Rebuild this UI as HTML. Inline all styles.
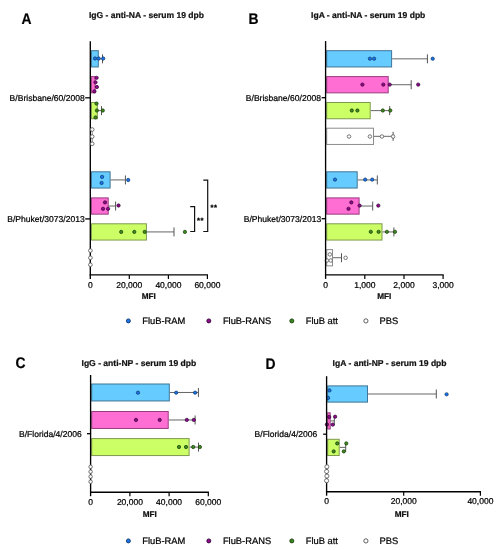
<!DOCTYPE html>
<html><head><meta charset="utf-8"><title>Figure</title>
<style>
html,body{margin:0;padding:0;background:#fff;}
body{width:502px;height:550px;overflow:hidden;}
svg{display:block;font-family:'Liberation Sans', Arial, sans-serif;text-rendering:geometricPrecision;}
</style></head><body>
<svg width="502" height="550" viewBox="0 0 502 550">
<rect width="502" height="550" fill="#fff"/>
<text transform="translate(21.6,23.9) scale(0.9,1)" font-size="15.4" font-weight="bold" fill="#000" stroke="#000" stroke-width="0.2">A</text>
<text x="146.5" y="18.1" font-size="8.55" font-weight="bold" text-anchor="middle" fill="#111" stroke="#111" stroke-width="0.22">IgG - anti-NA - serum 19 dpb</text>
<line x1="98.8" y1="58.83" x2="102.5" y2="58.83" stroke="#555555" stroke-width="0.9"/>
<line x1="102.5" y1="54.33" x2="102.5" y2="63.33" stroke="#555555" stroke-width="1.0"/>
<rect x="91.4" y="50.7" width="6.9" height="16.25" fill="#66ccff" stroke="#3f7596" stroke-width="1"/>
<circle cx="95.0" cy="58.5" r="1.65" fill="#1c74ec" stroke="#0b3566" stroke-width="0.7"/>
<circle cx="98.7" cy="58.5" r="1.65" fill="#1c74ec" stroke="#0b3566" stroke-width="0.7"/>
<circle cx="103.2" cy="58.5" r="1.65" fill="#1c74ec" stroke="#0b3566" stroke-width="0.7"/>
<rect x="91.4" y="76.6" width="3.7" height="16.25" fill="#ff6ed2" stroke="#983c80" stroke-width="1"/>
<circle cx="96.6" cy="77.8" r="1.65" fill="#900a90" stroke="#2e022e" stroke-width="0.7"/>
<circle cx="95.5" cy="82.3" r="1.65" fill="#900a90" stroke="#2e022e" stroke-width="0.7"/>
<circle cx="96.9" cy="87.0" r="1.65" fill="#900a90" stroke="#2e022e" stroke-width="0.7"/>
<circle cx="94.4" cy="91.3" r="1.65" fill="#900a90" stroke="#2e022e" stroke-width="0.7"/>
<line x1="97.8" y1="110.62" x2="101.5" y2="110.62" stroke="#555555" stroke-width="0.9"/>
<line x1="101.5" y1="106.12" x2="101.5" y2="115.12" stroke="#555555" stroke-width="1.0"/>
<rect x="91.4" y="102.5" width="5.9" height="16.25" fill="#ccff66" stroke="#7e9a4e" stroke-width="1"/>
<circle cx="96.5" cy="103.6" r="1.65" fill="#3d8a1c" stroke="#173a0b" stroke-width="0.7"/>
<circle cx="96.9" cy="110.5" r="1.65" fill="#3d8a1c" stroke="#173a0b" stroke-width="0.7"/>
<circle cx="102.8" cy="110.5" r="1.65" fill="#3d8a1c" stroke="#173a0b" stroke-width="0.7"/>
<circle cx="95.5" cy="117.4" r="1.65" fill="#3d8a1c" stroke="#173a0b" stroke-width="0.7"/>
<line x1="110.6" y1="179.93" x2="125.4" y2="179.93" stroke="#555555" stroke-width="0.9"/>
<line x1="125.4" y1="175.43" x2="125.4" y2="184.43" stroke="#555555" stroke-width="1.0"/>
<rect x="91.4" y="171.8" width="18.7" height="16.25" fill="#66ccff" stroke="#3f7596" stroke-width="1"/>
<circle cx="102.1" cy="176.9" r="1.65" fill="#1c74ec" stroke="#0b3566" stroke-width="0.7"/>
<circle cx="101.6" cy="183.0" r="1.65" fill="#1c74ec" stroke="#0b3566" stroke-width="0.7"/>
<circle cx="128.2" cy="180.0" r="1.65" fill="#1c74ec" stroke="#0b3566" stroke-width="0.7"/>
<line x1="108.7" y1="206.03" x2="115.6" y2="206.03" stroke="#555555" stroke-width="0.9"/>
<line x1="115.6" y1="201.53" x2="115.6" y2="210.53" stroke="#555555" stroke-width="1.0"/>
<rect x="91.4" y="197.9" width="16.8" height="16.25" fill="#ff6ed2" stroke="#983c80" stroke-width="1"/>
<circle cx="105" cy="202.4" r="1.65" fill="#900a90" stroke="#2e022e" stroke-width="0.7"/>
<circle cx="103" cy="208.8" r="1.65" fill="#900a90" stroke="#2e022e" stroke-width="0.7"/>
<circle cx="108.1" cy="208.8" r="1.65" fill="#900a90" stroke="#2e022e" stroke-width="0.7"/>
<circle cx="118.5" cy="205.5" r="1.65" fill="#900a90" stroke="#2e022e" stroke-width="0.7"/>
<line x1="146.9" y1="231.93" x2="174.0" y2="231.93" stroke="#555555" stroke-width="0.9"/>
<line x1="174.0" y1="227.43" x2="174.0" y2="236.43" stroke="#555555" stroke-width="1.0"/>
<rect x="91.4" y="223.8" width="55" height="16.25" fill="#ccff66" stroke="#7e9a4e" stroke-width="1"/>
<circle cx="121.2" cy="231.9" r="1.65" fill="#3d8a1c" stroke="#173a0b" stroke-width="0.7"/>
<circle cx="134.3" cy="231.9" r="1.65" fill="#3d8a1c" stroke="#173a0b" stroke-width="0.7"/>
<circle cx="144.7" cy="231.9" r="1.65" fill="#3d8a1c" stroke="#173a0b" stroke-width="0.7"/>
<circle cx="184.9" cy="231.9" r="1.65" fill="#3d8a1c" stroke="#173a0b" stroke-width="0.7"/>
<line x1="90.3" y1="41.2" x2="90.3" y2="278.9" stroke="#000000" stroke-width="1.35"/>
<line x1="89.65" y1="274.9" x2="208.0" y2="274.9" stroke="#000000" stroke-width="1.4"/>
<line x1="129.3" y1="274.9" x2="129.3" y2="278.9" stroke="#000000" stroke-width="1.2"/>
<line x1="168.4" y1="274.9" x2="168.4" y2="278.9" stroke="#000000" stroke-width="1.2"/>
<line x1="207.4" y1="274.9" x2="207.4" y2="278.9" stroke="#000000" stroke-width="1.2"/>
<line x1="92.2" y1="130.5" x2="92.2" y2="142.7" stroke="#777" stroke-width="0.9"/>
<circle cx="92.2" cy="129.5" r="1.85" fill="#fff" stroke="#5a5a5a" stroke-width="0.85"/>
<circle cx="92.2" cy="136.6" r="1.85" fill="#fff" stroke="#5a5a5a" stroke-width="0.85"/>
<circle cx="92.2" cy="143.8" r="1.85" fill="#fff" stroke="#5a5a5a" stroke-width="0.85"/>
<circle cx="90.4" cy="250.6" r="1.85" fill="#fff" stroke="#5a5a5a" stroke-width="0.85"/>
<circle cx="90.4" cy="257.8" r="1.85" fill="#fff" stroke="#5a5a5a" stroke-width="0.85"/>
<circle cx="90.4" cy="264.8" r="1.85" fill="#fff" stroke="#5a5a5a" stroke-width="0.85"/>
<polyline points="190.2,206.6 194.6,206.6 194.6,231.5 190.2,231.5" fill="none" stroke="#111" stroke-width="1.2"/>
<text x="198.4" y="222.8" font-size="7.6" font-weight="bold" text-anchor="middle" fill="#000" stroke="#000" stroke-width="0.3">*</text>
<text x="202.0" y="222.8" font-size="7.6" font-weight="bold" text-anchor="middle" fill="#000" stroke="#000" stroke-width="0.3">*</text>
<polyline points="203.3,180.1 207.7,180.1 207.7,231.5 203.3,231.5" fill="none" stroke="#111" stroke-width="1.2"/>
<text x="211.9" y="209.8" font-size="7.6" font-weight="bold" text-anchor="middle" fill="#000" stroke="#000" stroke-width="0.3">*</text>
<text x="215.5" y="209.8" font-size="7.6" font-weight="bold" text-anchor="middle" fill="#000" stroke="#000" stroke-width="0.3">*</text>
<line x1="85.2" y1="97.8" x2="90.3" y2="97.8" stroke="#000000" stroke-width="1.3"/>
<line x1="85.2" y1="218.9" x2="90.3" y2="218.9" stroke="#000000" stroke-width="1.3"/>
<text x="84.7" y="100.9" font-size="8.55" font-weight="normal" text-anchor="end" fill="#000" stroke="#000" stroke-width="0.22">B/Brisbane/60/2008</text>
<text x="84.7" y="222.0" font-size="8.55" font-weight="normal" text-anchor="end" fill="#000" stroke="#000" stroke-width="0.22">B/Phuket/3073/2013</text>
<text x="90.3" y="287.9" font-size="8.5" font-weight="normal" text-anchor="middle" fill="#000" stroke="#000" stroke-width="0.22">0</text>
<text x="129.3" y="287.9" font-size="8.5" font-weight="normal" text-anchor="middle" fill="#000" stroke="#000" stroke-width="0.22">20,000</text>
<text x="168.4" y="287.9" font-size="8.5" font-weight="normal" text-anchor="middle" fill="#000" stroke="#000" stroke-width="0.22">40,000</text>
<text x="207.4" y="287.9" font-size="8.5" font-weight="normal" text-anchor="middle" fill="#000" stroke="#000" stroke-width="0.22">60,000</text>
<text x="148.8" y="299.2" font-size="8.2" font-weight="bold" text-anchor="middle" fill="#111" stroke="#111" stroke-width="0.22">MFI</text>
<text transform="translate(248.6,23.9) scale(0.9,1)" font-size="15.4" font-weight="bold" fill="#000" stroke="#000" stroke-width="0.2">B</text>
<text x="368.2" y="18.1" font-size="8.55" font-weight="bold" text-anchor="middle" fill="#111" stroke="#111" stroke-width="0.22">IgA - anti-NA - serum 19 dpb</text>
<line x1="392.1" y1="58.83" x2="427.4" y2="58.83" stroke="#555555" stroke-width="0.9"/>
<line x1="427.4" y1="54.33" x2="427.4" y2="63.33" stroke="#555555" stroke-width="1.0"/>
<rect x="326.7" y="50.7" width="64.9" height="16.25" fill="#66ccff" stroke="#3f7596" stroke-width="1"/>
<circle cx="369.9" cy="58.7" r="1.65" fill="#1c74ec" stroke="#0b3566" stroke-width="0.7"/>
<circle cx="374.1" cy="58.7" r="1.65" fill="#1c74ec" stroke="#0b3566" stroke-width="0.7"/>
<circle cx="432.7" cy="58.7" r="1.65" fill="#1c74ec" stroke="#0b3566" stroke-width="0.7"/>
<line x1="388.7" y1="84.72" x2="411.2" y2="84.72" stroke="#555555" stroke-width="0.9"/>
<line x1="411.2" y1="80.22" x2="411.2" y2="89.22" stroke="#555555" stroke-width="1.0"/>
<rect x="326.7" y="76.6" width="61.5" height="16.25" fill="#ff6ed2" stroke="#983c80" stroke-width="1"/>
<circle cx="362.4" cy="84.6" r="1.65" fill="#900a90" stroke="#2e022e" stroke-width="0.7"/>
<circle cx="383.3" cy="84.6" r="1.65" fill="#900a90" stroke="#2e022e" stroke-width="0.7"/>
<circle cx="389.7" cy="84.6" r="1.65" fill="#900a90" stroke="#2e022e" stroke-width="0.7"/>
<circle cx="418.2" cy="84.6" r="1.65" fill="#900a90" stroke="#2e022e" stroke-width="0.7"/>
<line x1="370.7" y1="110.62" x2="389.7" y2="110.62" stroke="#555555" stroke-width="0.9"/>
<line x1="389.7" y1="106.12" x2="389.7" y2="115.12" stroke="#555555" stroke-width="1.0"/>
<rect x="326.7" y="102.5" width="43.5" height="16.25" fill="#ccff66" stroke="#7e9a4e" stroke-width="1"/>
<circle cx="351.8" cy="110.5" r="1.65" fill="#3d8a1c" stroke="#173a0b" stroke-width="0.7"/>
<circle cx="357.4" cy="110.5" r="1.65" fill="#3d8a1c" stroke="#173a0b" stroke-width="0.7"/>
<circle cx="382.8" cy="110.5" r="1.65" fill="#3d8a1c" stroke="#173a0b" stroke-width="0.7"/>
<circle cx="390.3" cy="110.5" r="1.65" fill="#3d8a1c" stroke="#173a0b" stroke-width="0.7"/>
<line x1="374.0" y1="136.32" x2="393.1" y2="136.32" stroke="#555555" stroke-width="0.9"/>
<line x1="393.1" y1="131.82" x2="393.1" y2="140.82" stroke="#555555" stroke-width="1.0"/>
<rect x="326.7" y="128.2" width="46.8" height="16.25" fill="#ffffff" stroke="#8c8c8c" stroke-width="1"/>
<circle cx="349.0" cy="136.5" r="1.75" fill="#fff" stroke="#555" stroke-width="0.8"/>
<circle cx="369.9" cy="136.5" r="1.75" fill="#fff" stroke="#555" stroke-width="0.8"/>
<circle cx="381.9" cy="136.5" r="1.75" fill="#fff" stroke="#555" stroke-width="0.8"/>
<circle cx="393.1" cy="136.5" r="1.75" fill="#fff" stroke="#555" stroke-width="0.8"/>
<line x1="357.7" y1="179.93" x2="377.3" y2="179.93" stroke="#555555" stroke-width="0.9"/>
<line x1="377.3" y1="175.43" x2="377.3" y2="184.43" stroke="#555555" stroke-width="1.0"/>
<rect x="326.7" y="171.8" width="30.5" height="16.25" fill="#66ccff" stroke="#3f7596" stroke-width="1"/>
<circle cx="335.0" cy="179.6" r="1.65" fill="#1c74ec" stroke="#0b3566" stroke-width="0.7"/>
<circle cx="365.2" cy="179.6" r="1.65" fill="#1c74ec" stroke="#0b3566" stroke-width="0.7"/>
<circle cx="372.2" cy="179.6" r="1.65" fill="#1c74ec" stroke="#0b3566" stroke-width="0.7"/>
<line x1="359.6" y1="206.03" x2="372.7" y2="206.03" stroke="#555555" stroke-width="0.9"/>
<line x1="372.7" y1="201.53" x2="372.7" y2="210.53" stroke="#555555" stroke-width="1.0"/>
<rect x="326.7" y="197.9" width="32.4" height="16.25" fill="#ff6ed2" stroke="#983c80" stroke-width="1"/>
<circle cx="351.3" cy="202.4" r="1.65" fill="#900a90" stroke="#2e022e" stroke-width="0.7"/>
<circle cx="348.5" cy="208.8" r="1.65" fill="#900a90" stroke="#2e022e" stroke-width="0.7"/>
<circle cx="359.6" cy="205.6" r="1.65" fill="#900a90" stroke="#2e022e" stroke-width="0.7"/>
<circle cx="378.3" cy="205.6" r="1.65" fill="#900a90" stroke="#2e022e" stroke-width="0.7"/>
<line x1="382.5" y1="231.93" x2="393.9" y2="231.93" stroke="#555555" stroke-width="0.9"/>
<line x1="393.9" y1="227.43" x2="393.9" y2="236.43" stroke="#555555" stroke-width="1.0"/>
<rect x="326.7" y="223.8" width="55.3" height="16.25" fill="#ccff66" stroke="#7e9a4e" stroke-width="1"/>
<circle cx="370.8" cy="231.8" r="1.65" fill="#3d8a1c" stroke="#173a0b" stroke-width="0.7"/>
<circle cx="378.6" cy="231.8" r="1.65" fill="#3d8a1c" stroke="#173a0b" stroke-width="0.7"/>
<circle cx="386.9" cy="231.8" r="1.65" fill="#3d8a1c" stroke="#173a0b" stroke-width="0.7"/>
<circle cx="395.0" cy="231.8" r="1.65" fill="#3d8a1c" stroke="#173a0b" stroke-width="0.7"/>
<line x1="333.0" y1="257.73" x2="341.5" y2="257.73" stroke="#555555" stroke-width="0.9"/>
<line x1="341.5" y1="253.23" x2="341.5" y2="262.23" stroke="#555555" stroke-width="1.0"/>
<rect x="326.7" y="249.6" width="5.8" height="16.25" fill="#ffffff" stroke="#8c8c8c" stroke-width="1"/>
<circle cx="329.8" cy="254.4" r="1.75" fill="#fff" stroke="#555" stroke-width="0.8"/>
<circle cx="326.9" cy="260.5" r="1.75" fill="#fff" stroke="#555" stroke-width="0.8"/>
<circle cx="330.7" cy="260.5" r="1.75" fill="#fff" stroke="#555" stroke-width="0.8"/>
<circle cx="345.6" cy="257.8" r="1.75" fill="#fff" stroke="#555" stroke-width="0.8"/>
<line x1="325.6" y1="41.1" x2="325.6" y2="278.9" stroke="#000000" stroke-width="1.35"/>
<line x1="324.95" y1="274.9" x2="443.7" y2="274.9" stroke="#000000" stroke-width="1.4"/>
<line x1="364.8" y1="274.9" x2="364.8" y2="278.9" stroke="#000000" stroke-width="1.2"/>
<line x1="404.0" y1="274.9" x2="404.0" y2="278.9" stroke="#000000" stroke-width="1.2"/>
<line x1="443.1" y1="274.9" x2="443.1" y2="278.9" stroke="#000000" stroke-width="1.2"/>
<line x1="321.6" y1="97.7" x2="325.6" y2="97.7" stroke="#000000" stroke-width="1.3"/>
<line x1="321.6" y1="218.7" x2="325.6" y2="218.7" stroke="#000000" stroke-width="1.3"/>
<text x="320.9" y="100.8" font-size="8.55" font-weight="normal" text-anchor="end" fill="#000" stroke="#000" stroke-width="0.22">B/Brisbane/60/2008</text>
<text x="321.2" y="221.8" font-size="8.55" font-weight="normal" text-anchor="end" fill="#000" stroke="#000" stroke-width="0.22">B/Phuket/3073/2013</text>
<text x="325.6" y="287.9" font-size="8.5" font-weight="normal" text-anchor="middle" fill="#000" stroke="#000" stroke-width="0.22">0</text>
<text x="364.8" y="287.9" font-size="8.5" font-weight="normal" text-anchor="middle" fill="#000" stroke="#000" stroke-width="0.22">1,000</text>
<text x="404.0" y="287.9" font-size="8.5" font-weight="normal" text-anchor="middle" fill="#000" stroke="#000" stroke-width="0.22">2,000</text>
<text x="443.1" y="287.9" font-size="8.5" font-weight="normal" text-anchor="middle" fill="#000" stroke="#000" stroke-width="0.22">3,000</text>
<text x="384.3" y="299.2" font-size="8.2" font-weight="bold" text-anchor="middle" fill="#111" stroke="#111" stroke-width="0.22">MFI</text>
<circle cx="128.4" cy="320.9" r="2.0" fill="#1c74ec" stroke="#0b3566" stroke-width="0.9"/>
<text x="142.3" y="324.3" font-size="9.35" font-weight="normal" text-anchor="start" fill="#000" stroke="#000" stroke-width="0.22">FluB-RAM</text>
<circle cx="208.8" cy="320.9" r="2.0" fill="#900a90" stroke="#2e022e" stroke-width="0.9"/>
<text x="222.9" y="324.3" font-size="9.35" font-weight="normal" text-anchor="start" fill="#000" stroke="#000" stroke-width="0.22">FluB-RANS</text>
<circle cx="291.8" cy="320.9" r="2.0" fill="#3d8a1c" stroke="#173a0b" stroke-width="0.9"/>
<text x="305.7" y="324.3" font-size="9.35" font-weight="normal" text-anchor="start" fill="#000" stroke="#000" stroke-width="0.22">FluB att</text>
<circle cx="365.9" cy="320.9" r="2.1" fill="#fff" stroke="#555" stroke-width="0.95"/>
<text x="379.6" y="324.3" font-size="9.35" font-weight="normal" text-anchor="start" fill="#000" stroke="#000" stroke-width="0.22">PBS</text>
<circle cx="128.4" cy="540.9" r="2.0" fill="#1c74ec" stroke="#0b3566" stroke-width="0.9"/>
<text x="142.3" y="544.3" font-size="9.35" font-weight="normal" text-anchor="start" fill="#000" stroke="#000" stroke-width="0.22">FluB-RAM</text>
<circle cx="208.8" cy="540.9" r="2.0" fill="#900a90" stroke="#2e022e" stroke-width="0.9"/>
<text x="222.9" y="544.3" font-size="9.35" font-weight="normal" text-anchor="start" fill="#000" stroke="#000" stroke-width="0.22">FluB-RANS</text>
<circle cx="291.8" cy="540.9" r="2.0" fill="#3d8a1c" stroke="#173a0b" stroke-width="0.9"/>
<text x="305.7" y="544.3" font-size="9.35" font-weight="normal" text-anchor="start" fill="#000" stroke="#000" stroke-width="0.22">FluB att</text>
<circle cx="365.9" cy="540.9" r="2.1" fill="#fff" stroke="#555" stroke-width="0.95"/>
<text x="379.6" y="544.3" font-size="9.35" font-weight="normal" text-anchor="start" fill="#000" stroke="#000" stroke-width="0.22">PBS</text>
<text transform="translate(15.6,368.3) scale(0.9,1)" font-size="15.4" font-weight="bold" fill="#000" stroke="#000" stroke-width="0.2">C</text>
<text x="138.9" y="365.7" font-size="8.55" font-weight="bold" text-anchor="middle" fill="#111" stroke="#111" stroke-width="0.22">IgG - anti-NP - serum 19 dpb</text>
<line x1="169.8" y1="392.48" x2="198.4" y2="392.48" stroke="#555555" stroke-width="0.9"/>
<line x1="198.4" y1="387.98" x2="198.4" y2="396.98" stroke="#555555" stroke-width="1.0"/>
<rect x="91.7" y="384.0" width="77.6" height="16.95" fill="#66ccff" stroke="#3f7596" stroke-width="1"/>
<circle cx="138" cy="392.7" r="1.65" fill="#1c74ec" stroke="#0b3566" stroke-width="0.7"/>
<circle cx="176.2" cy="392.7" r="1.65" fill="#1c74ec" stroke="#0b3566" stroke-width="0.7"/>
<circle cx="195.1" cy="392.7" r="1.65" fill="#1c74ec" stroke="#0b3566" stroke-width="0.7"/>
<line x1="168.7" y1="419.98" x2="195.1" y2="419.98" stroke="#555555" stroke-width="0.9"/>
<line x1="195.1" y1="415.48" x2="195.1" y2="424.48" stroke="#555555" stroke-width="1.0"/>
<rect x="91.7" y="411.5" width="76.5" height="16.95" fill="#ff6ed2" stroke="#983c80" stroke-width="1"/>
<circle cx="136" cy="419.9" r="1.65" fill="#900a90" stroke="#2e022e" stroke-width="0.7"/>
<circle cx="159.7" cy="419.9" r="1.65" fill="#900a90" stroke="#2e022e" stroke-width="0.7"/>
<circle cx="186.8" cy="419.9" r="1.65" fill="#900a90" stroke="#2e022e" stroke-width="0.7"/>
<circle cx="193.8" cy="419.9" r="1.65" fill="#900a90" stroke="#2e022e" stroke-width="0.7"/>
<line x1="189.6" y1="447.08" x2="198.5" y2="447.08" stroke="#555555" stroke-width="0.9"/>
<line x1="198.5" y1="442.58" x2="198.5" y2="451.58" stroke="#555555" stroke-width="1.0"/>
<rect x="91.7" y="438.6" width="97.4" height="16.95" fill="#ccff66" stroke="#7e9a4e" stroke-width="1"/>
<circle cx="179" cy="447" r="1.65" fill="#3d8a1c" stroke="#173a0b" stroke-width="0.7"/>
<circle cx="186" cy="447" r="1.65" fill="#3d8a1c" stroke="#173a0b" stroke-width="0.7"/>
<circle cx="193.2" cy="447" r="1.65" fill="#3d8a1c" stroke="#173a0b" stroke-width="0.7"/>
<circle cx="199.9" cy="447" r="1.65" fill="#3d8a1c" stroke="#173a0b" stroke-width="0.7"/>
<line x1="90.6" y1="375.0" x2="90.6" y2="496.2" stroke="#000000" stroke-width="1.35"/>
<line x1="89.95" y1="492.2" x2="208.9" y2="492.2" stroke="#000000" stroke-width="1.4"/>
<line x1="129.9" y1="492.2" x2="129.9" y2="496.2" stroke="#000000" stroke-width="1.2"/>
<line x1="169.1" y1="492.2" x2="169.1" y2="496.2" stroke="#000000" stroke-width="1.2"/>
<line x1="208.3" y1="492.2" x2="208.3" y2="496.2" stroke="#000000" stroke-width="1.2"/>
<circle cx="90.6" cy="466.8" r="1.75" fill="#fff" stroke="#5a5a5a" stroke-width="0.85"/>
<circle cx="90.6" cy="471.7" r="1.75" fill="#fff" stroke="#5a5a5a" stroke-width="0.85"/>
<circle cx="90.6" cy="476.6" r="1.75" fill="#fff" stroke="#5a5a5a" stroke-width="0.85"/>
<circle cx="90.6" cy="481.7" r="1.75" fill="#fff" stroke="#5a5a5a" stroke-width="0.85"/>
<line x1="87.0" y1="433.7" x2="90.6" y2="433.7" stroke="#000000" stroke-width="1.3"/>
<text x="81.7" y="436.8" font-size="8.55" font-weight="normal" text-anchor="end" fill="#000" stroke="#000" stroke-width="0.22">B/Florida/4/2006</text>
<text x="90.6" y="505.0" font-size="8.5" font-weight="normal" text-anchor="middle" fill="#000" stroke="#000" stroke-width="0.22">0</text>
<text x="129.9" y="505.0" font-size="8.5" font-weight="normal" text-anchor="middle" fill="#000" stroke="#000" stroke-width="0.22">20,000</text>
<text x="169.1" y="505.0" font-size="8.5" font-weight="normal" text-anchor="middle" fill="#000" stroke="#000" stroke-width="0.22">40,000</text>
<text x="208.3" y="505.0" font-size="8.5" font-weight="normal" text-anchor="middle" fill="#000" stroke="#000" stroke-width="0.22">60,000</text>
<text x="149.7" y="516.7" font-size="8.2" font-weight="bold" text-anchor="middle" fill="#111" stroke="#111" stroke-width="0.22">MFI</text>
<text transform="translate(265.4,368.5) scale(0.9,1)" font-size="15.4" font-weight="bold" fill="#000" stroke="#000" stroke-width="0.2">D</text>
<text x="389.6" y="365.7" font-size="8.55" font-weight="bold" text-anchor="middle" fill="#111" stroke="#111" stroke-width="0.22">IgA - anti-NP - serum 19 dpb</text>
<line x1="368.0" y1="394.0" x2="436.3" y2="394.0" stroke="#555555" stroke-width="0.9"/>
<line x1="436.3" y1="389.5" x2="436.3" y2="398.5" stroke="#555555" stroke-width="1.0"/>
<rect x="327.7" y="385.9" width="39.8" height="16.2" fill="#66ccff" stroke="#3f7596" stroke-width="1"/>
<circle cx="329.5" cy="390.4" r="1.65" fill="#1c74ec" stroke="#0b3566" stroke-width="0.7"/>
<circle cx="328.1" cy="397.9" r="1.65" fill="#1c74ec" stroke="#0b3566" stroke-width="0.7"/>
<circle cx="446.6" cy="394.3" r="1.65" fill="#1c74ec" stroke="#0b3566" stroke-width="0.7"/>
<line x1="330.7" y1="420.9" x2="334.3" y2="420.9" stroke="#555555" stroke-width="0.9"/>
<line x1="334.3" y1="416.4" x2="334.3" y2="425.4" stroke="#555555" stroke-width="1.0"/>
<rect x="327.7" y="412.8" width="2.5" height="16.2" fill="#ff6ed2" stroke="#983c80" stroke-width="1"/>
<circle cx="329.2" cy="417.0" r="1.65" fill="#900a90" stroke="#2e022e" stroke-width="0.7"/>
<circle cx="335.1" cy="416.7" r="1.65" fill="#900a90" stroke="#2e022e" stroke-width="0.7"/>
<circle cx="326.9" cy="424.5" r="1.65" fill="#900a90" stroke="#2e022e" stroke-width="0.7"/>
<circle cx="332.7" cy="424.6" r="1.65" fill="#900a90" stroke="#2e022e" stroke-width="0.7"/>
<line x1="339.7" y1="447.4" x2="345.7" y2="447.4" stroke="#555555" stroke-width="0.9"/>
<line x1="345.7" y1="442.9" x2="345.7" y2="451.9" stroke="#555555" stroke-width="1.0"/>
<rect x="327.7" y="439.3" width="11.5" height="16.2" fill="#ccff66" stroke="#7e9a4e" stroke-width="1"/>
<circle cx="337.2" cy="443.4" r="1.65" fill="#3d8a1c" stroke="#173a0b" stroke-width="0.7"/>
<circle cx="346.3" cy="443.4" r="1.65" fill="#3d8a1c" stroke="#173a0b" stroke-width="0.7"/>
<circle cx="333.7" cy="451.4" r="1.65" fill="#3d8a1c" stroke="#173a0b" stroke-width="0.7"/>
<circle cx="343.8" cy="451.4" r="1.65" fill="#3d8a1c" stroke="#173a0b" stroke-width="0.7"/>
<line x1="326.6" y1="376.2" x2="326.6" y2="495.7" stroke="#000000" stroke-width="1.35"/>
<line x1="325.95" y1="491.7" x2="481.0" y2="491.7" stroke="#000000" stroke-width="1.4"/>
<line x1="403.7" y1="491.7" x2="403.7" y2="495.7" stroke="#000000" stroke-width="1.2"/>
<line x1="480.4" y1="491.7" x2="480.4" y2="495.7" stroke="#000000" stroke-width="1.2"/>
<circle cx="326.9" cy="466.8" r="2.05" fill="#fff" stroke="#5a5a5a" stroke-width="0.85"/>
<circle cx="326.6" cy="471.5" r="2.05" fill="#fff" stroke="#5a5a5a" stroke-width="0.85"/>
<circle cx="326.9" cy="476.1" r="2.05" fill="#fff" stroke="#5a5a5a" stroke-width="0.85"/>
<circle cx="326.6" cy="480.7" r="2.05" fill="#fff" stroke="#5a5a5a" stroke-width="0.85"/>
<line x1="323.2" y1="434.2" x2="326.6" y2="434.2" stroke="#000000" stroke-width="1.3"/>
<text x="317.3" y="437.3" font-size="8.55" font-weight="normal" text-anchor="end" fill="#000" stroke="#000" stroke-width="0.22">B/Florida/4/2006</text>
<text x="326.6" y="504.2" font-size="8.5" font-weight="normal" text-anchor="middle" fill="#000" stroke="#000" stroke-width="0.22">0</text>
<text x="403.7" y="504.2" font-size="8.5" font-weight="normal" text-anchor="middle" fill="#000" stroke="#000" stroke-width="0.22">20,000</text>
<text x="480.4" y="504.2" font-size="8.5" font-weight="normal" text-anchor="middle" fill="#000" stroke="#000" stroke-width="0.22">40,000</text>
<text x="401.8" y="516.7" font-size="8.2" font-weight="bold" text-anchor="middle" fill="#111" stroke="#111" stroke-width="0.22">MFI</text>
</svg>
</body></html>
